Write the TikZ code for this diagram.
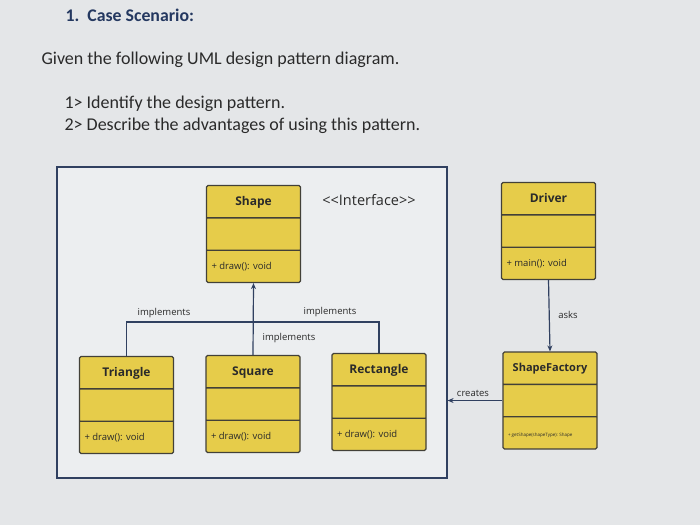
\documentclass[tikz,border=0pt]{standalone}
\usepackage{fontspec}
\setmainfont{Carlito}
\newfontfamily\diagfont{Open Sans}
\usetikzlibrary{shapes.multipart, arrows.meta}

\definecolor{classyellow}{RGB}{230,204,74}
\definecolor{classedge}{RGB}{66,64,56}
\definecolor{linkblue}{RGB}{48,64,96}
\definecolor{pagegray}{RGB}{228,230,232}
\definecolor{framefill}{RGB}{236,238,240}
\definecolor{headblue}{RGB}{36,56,96}
\definecolor{textgray}{RGB}{42,42,42}

% equal height for every compartment
\newcommand{\classstrut}{\rule[-5pt]{0pt}{17pt}}

\begin{document}
\begin{tikzpicture}[x=1pt, y=-1pt,
          umlclass/.style={rectangle split, rectangle split parts=3,
            rectangle split part align={center,center,left},
            draw=classedge, line width=1.3pt, fill=classyellow, rounded corners=1.5pt,
            minimum width=94pt, inner xsep=5pt, inner ysep=7pt, text=textgray},
          lbl/.style={font=\diagfont\fontsize{9.5}{11}\selectfont, text=textgray},
          line/.style={draw=linkblue, line width=1.2pt},
          para/.style={anchor=west, text=textgray},
        ]
          \useasboundingbox[fill=pagegray] (0,0) rectangle (700,525);

          \node[para, text=headblue, font=\fontsize{17.8}{21}\selectfont\bfseries] (title) at (62,15) {1.\ \ Case Scenario:};
          \node[para, font=\fontsize{18}{21}\selectfont] (intro) at (38,60) {Given the following UML design pattern diagram.};
          \node[para, font=\fontsize{18}{21}\selectfont] (q1) at (61,104) {1> Identify the design pattern.};
          \node[para, font=\fontsize{18}{21}\selectfont] (q2) at (61,126) {2> Describe the advantages of using this pattern.};

          \node[draw=linkblue, line width=1.2pt, fill=framefill, minimum width=390pt, minimum height=311pt] (frame) at (252,322.5) {};

          \node[umlclass] (shape) at (253.5,234) {\classstrut\diagfont\fontsize{12}{14}\selectfont\bfseries Shape
            \nodepart{second}\classstrut
            \nodepart{third}\classstrut\diagfont\fontsize{9.5}{11}\selectfont + draw(): void};
          \node[font=\diagfont\fontsize{14.5}{17}\selectfont, text=textgray] (stereo) at (369,200) {<<Interface>>};

          \node[umlclass] (triangle) at (126.5,405) {\classstrut\diagfont\fontsize{12}{14}\selectfont\bfseries Triangle
            \nodepart{second}\classstrut
            \nodepart{third}\classstrut\diagfont\fontsize{9.5}{11}\selectfont + draw(): void};
          \node[umlclass] (square) at (253,404) {\classstrut\diagfont\fontsize{12}{14}\selectfont\bfseries Square
            \nodepart{second}\classstrut
            \nodepart{third}\classstrut\diagfont\fontsize{9.5}{11}\selectfont + draw(): void};
          \node[umlclass] (rect) at (379,402) {\classstrut\diagfont\fontsize{12}{14}\selectfont\bfseries Rectangle
            \nodepart{second}\classstrut
            \nodepart{third}\classstrut\diagfont\fontsize{9.5}{11}\selectfont + draw(): void};

          \node[umlclass] (driver) at (548.5,231) {\classstrut\diagfont\fontsize{12}{14}\selectfont\bfseries Driver
            \nodepart{second}\classstrut
            \nodepart{third}\classstrut\diagfont\fontsize{9.5}{11}\selectfont + main(): void};
          \node[umlclass] (factory) at (550,400.5) {\classstrut\diagfont\fontsize{11}{13}\selectfont\bfseries ShapeFactory
            \nodepart{second}\classstrut
            \nodepart{third}\classstrut\diagfont\fontsize{4.5}{5}\selectfont + getShape(shapeType): Shape};

          % realisations
          \coordinate (join) at (252,322);
          \draw[line] (triangle.north) |- (join) -| (rect.north);
          \draw[line, -{Stealth[length=6pt, width=5pt]}] (square.north) -- (shape.south);
          \node[lbl] (implleft) at (164,313) {implements};
          \node[lbl] (implright) at (330,312) {implements};
          \node[lbl] (implmid) at (289,338) {implements};

          % factory side
          \draw[line, -{Stealth[length=6pt, width=5pt]}] (driver.south) -- (factory.north);
          \node[lbl] (asks) at (568,315) {asks};
          \draw[line, -{Stealth[length=6pt, width=5pt]}] (factory.west) -- (factory.west -| frame.east);
          \node[lbl] (creates) at (473,393) {creates};
        \end{tikzpicture}
\end{document}
